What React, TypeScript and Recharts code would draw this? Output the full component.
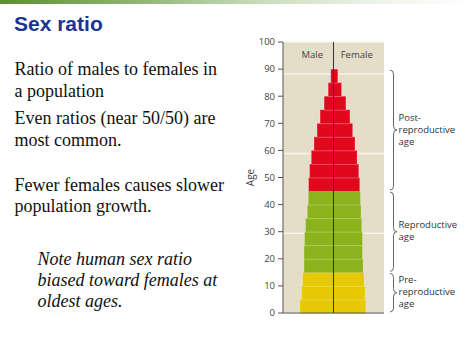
import React from "react";
import { BarChart, Bar, XAxis, YAxis, CartesianGrid, ReferenceLine, ReferenceArea, Cell } from "recharts";

// 5-year age classes, share of population drawn as half-widths of the pyramid
const ageStarts = [0, 5, 10, 15, 20, 25, 30, 35, 40, 45, 50, 55, 60, 65, 70, 75, 80, 85];
const maleShare = [33.3, 31.7, 30.7, 29.3, 29.3, 28.7, 27.7, 26, 25, 24.7, 23.7, 22, 19.3, 16.3, 13.3, 9.3, 5.3, 2.7];
const femaleShare = [32, 31.3, 30.3, 29.3, 28.7, 28.7, 28, 27.3, 26.7, 26, 25, 23.3, 21.3, 19, 16.3, 12.3, 8, 4.3];

const ageTicks = [0, 10, 20, 30, 40, 50, 60, 70, 80, 90, 100];
const classLines = [5, 10, 15, 20, 25, 30, 35, 40, 45, 50, 55, 60, 65, 70, 75, 80, 85, 90];

const stages = [
    { from: 45, to: 90, color: "#e1071d", lines: ["Post-", "reproductive", "age"] },
    { from: 15, to: 45, color: "#8cb31c", lines: ["Reproductive", "age"] },
    { from: 0, to: 15, color: "#e6c805", lines: ["Pre-", "reproductive", "age"] },
];

const para1 = ["Ratio of males to females in", "a population"];
const para2 = ["Even ratios (near 50/50) are", "most common."];
const para3 = ["Fewer females causes slower", "population growth."];
const noteLines = ["Note human sex ratio", "biased toward females at", "oldest ages."];

const stageOf = (age: number) => stages.find((s) => age >= s.from && age < s.to) || stages[0];

const chartData = ageStarts.map((start, i) => ({
    age: start + 2.5,
    male: -maleShare[i],
    female: femaleShare[i],
    color: stageOf(start).color,
}));

const Brace = (props: any) => {
    const { x, y, width, height, lines } = props;
    const bx = x + width + 9.5;
    const top = y + 1;
    const bot = y + height - 1;
    const mid = y + height / 2;
    const d = `M${bx - 3.5},${top} Q${bx},${top} ${bx},${top + 4} L${bx},${mid - 4} Q${bx},${mid} ${bx + 3.5},${mid} Q${bx},${mid} ${bx},${mid + 4} L${bx},${bot - 4} Q${bx},${bot} ${bx - 3.5},${bot}`;
    return (
        <g>
            <path d={d} fill="none" stroke="#666" strokeWidth={1} />
            {lines.map((t: string, i: number) => (
                <text
                    key={i}
                    x={bx + 5}
                    y={mid - 1 + (i - (lines.length - 1) / 2) * 12}
                    dominantBaseline="central"
                    fontSize={9.5}
                    fill="#333"
                >
                    {t}
                </text>
            ))}
        </g>
    );
};

const serif = "'Liberation Serif', 'Times New Roman', serif";

const TextBlock: React.FC<{ lines: string[]; left: number; top: number; italic?: boolean }> = ({ lines, left, top, italic }) => (
    <div
        style={{
            position: "absolute",
            left,
            top,
            fontFamily: serif,
            fontSize: 18,
            lineHeight: "21.3px",
            fontStyle: italic ? "italic" : "normal",
            color: "#111",
            whiteSpace: "nowrap",
        }}
    >
        {lines.map((l, i) => (
            <div key={i}>{l}</div>
        ))}
    </div>
);

export default function App() {
    return (
        <div style={{ position: "absolute", left: 0, top: 0, width: 474, height: 355, background: "#fff", overflow: "hidden" }}>
            <div
                style={{
                    position: "absolute",
                    left: 0,
                    top: 0,
                    width: 474,
                    height: 4,
                    background: "linear-gradient(to right, #5a9130 0%, #8fb873 30%, #c9dcbc 55%, #eef3ea 80%, #ffffff 100%)",
                }}
            />
            <div
                style={{
                    position: "absolute",
                    left: 14,
                    top: 12.9,
                    fontFamily: "'Liberation Sans', Arial, sans-serif",
                    fontWeight: "bold",
                    fontSize: 21,
                    lineHeight: "21px",
                    color: "#1a3591",
                    whiteSpace: "nowrap",
                }}
            >
                Sex ratio
            </div>
            <TextBlock lines={para1} left={14.5} top={59.4} />
            <TextBlock lines={para2} left={14.5} top={108.4} />
            <TextBlock lines={para3} left={14.5} top={175.1} />
            <TextBlock lines={noteLines} left={37.5} top={248.9} italic />

            <div style={{ position: "absolute", left: 240, top: 30 }}>
                <BarChart
                    width={234}
                    height={300}
                    data={chartData}
                    layout="vertical"
                    stackOffset="sign"
                    barCategoryGap={0}
                    margin={{ top: 12, right: 90, bottom: 17, left: 0 }}
                    style={{ fontFamily: "'Open Sans', sans-serif" }}
                >
                    <CartesianGrid yAxisId="grid" vertical={false} fill="#e4dec8" stroke="#f6f3ea" strokeWidth={1.5} />
                    <XAxis type="number" domain={[-50, 50]} hide />
                    <YAxis
                        type="number"
                        dataKey="age"
                        domain={[0, 100]}
                        ticks={ageTicks}
                        reversed
                        width={43}
                        tickSize={5}
                        tickMargin={3}
                        axisLine={{ stroke: "#555" }}
                        tickLine={{ stroke: "#555" }}
                        tick={{ fill: "#444", fontSize: 9.5 }}
                        label={{ value: "Age", angle: -90, position: "insideLeft", offset: 10, textAnchor: "middle", fill: "#444", fontSize: 10 }}
                    />
                    <YAxis yAxisId="grid" type="number" domain={[0, 100]} ticks={classLines} reversed hide />
                    <Bar dataKey="male" stackId="a" isAnimationActive={false} stroke="rgba(255,255,255,0.3)" strokeWidth={0.8}>
                        {chartData.map((d, i) => (
                            <Cell key={`m-${i}`} fill={d.color} />
                        ))}
                    </Bar>
                    <Bar dataKey="female" stackId="a" isAnimationActive={false} stroke="rgba(255,255,255,0.3)" strokeWidth={0.8}>
                        {chartData.map((d, i) => (
                            <Cell key={`f-${i}`} fill={d.color} />
                        ))}
                    </Bar>
                    <ReferenceLine x={0} stroke="#333" strokeWidth={1} />
                    <ReferenceLine y={0} stroke="#555" strokeWidth={1} />
                    <ReferenceArea x1={-42} x2={0} y1={93} y2={98} fill="none" stroke="none" label={{ value: "Male", position: "center", fill: "#444", fontSize: 9.5 }} />
                    <ReferenceArea x1={0} x2={46} y1={93} y2={98} fill="none" stroke="none" label={{ value: "Female", position: "center", fill: "#444", fontSize: 9.5 }} />
                    {stages.map((s) => (
                        <ReferenceArea
                            key={s.lines.join(" ")}
                            x1={-50}
                            x2={50}
                            y1={s.from}
                            y2={s.to}
                            ifOverflow="visible"
                            shape={(p: any) => <Brace {...p} lines={s.lines} />}
                        />
                    ))}
                </BarChart>
            </div>
        </div>
    );
}
